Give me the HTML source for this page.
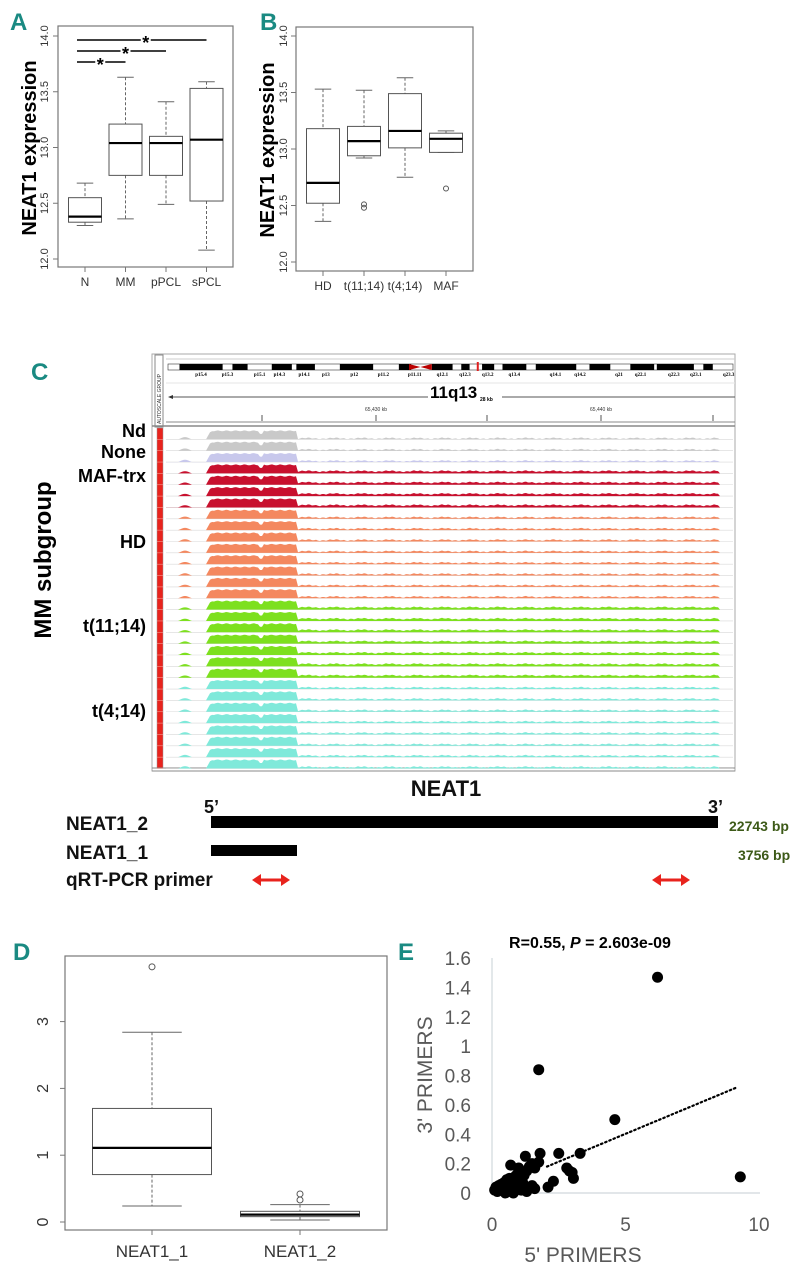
<!DOCTYPE html>
<html><head><meta charset="utf-8"><style>
html,body{margin:0;padding:0;background:#fff;}
svg{display:block;}
.lbl{font-family:"Liberation Sans Narrow","Liberation Sans",sans-serif;font-weight:bold;fill:#1a8a82;font-size:24px;}
.tk{font-family:"Liberation Sans Narrow","Liberation Sans",sans-serif;fill:#333;}
.bold{font-family:"Liberation Sans",sans-serif;font-weight:bold;fill:#000;}
.nar{font-family:"Liberation Sans Narrow","Liberation Sans",sans-serif;font-weight:bold;fill:#111;}
.eg{font-family:"Liberation Sans",sans-serif;fill:#595959;}
</style></head><body>
<svg id="fig" width="807" height="1280" viewBox="0 0 807 1280" xmlns="http://www.w3.org/2000/svg">
<rect width="807" height="1280" fill="#fff"/>
<text class="lbl" x="10" y="30">A</text>
<text class="lbl" x="260" y="30">B</text>
<text class="lbl" x="31" y="380">C</text>
<text class="lbl" x="13" y="960">D</text>
<text class="lbl" x="398" y="960">E</text>
<g id="pa"></g>
<g id="pb"></g>
<g id="pc"></g>
<g id="pd"></g>
<g id="pe"></g>
</svg>
<script>
// Panel A data
const aCats=["N","MM","pPCL","sPCL"];
const aLo=[12.30,12.36,12.49,12.08];
const aQ1=[12.33,12.75,12.75,12.52];
const aMed=[12.38,13.04,13.04,13.07];
const aQ3=[12.55,13.21,13.10,13.53];
const aHi=[12.68,13.63,13.41,13.59];
const aOut=[[],[],[],[]];
const aTicks=[12.0,12.5,13.0,13.5,14.0];
// Panel B data
const bCats=["HD","t(11;14)","t(4;14)","MAF"];
const bLo=[12.36,12.92,12.75,12.97];
const bQ1=[12.52,12.94,13.01,12.97];
const bMed=[12.70,13.07,13.16,13.09];
const bQ3=[13.18,13.20,13.49,13.14];
const bHi=[13.53,13.52,13.63,13.16];
const bOut=[[],[12.48,12.51],[],[12.65]];
// Panel D data
const dCats=["NEAT1_1","NEAT1_2"];
const dLo=[0.24,0.03];
const dQ1=[0.71,0.08];
const dMed=[1.11,0.11];
const dQ3=[1.70,0.16];
const dHi=[2.84,0.26];
const dOut=[[3.82],[0.33,0.42]];
const dTicks=[0,1,2,3];
// Panel E data
const eX=[0.1,0.2,0.3,0.25,0.4,0.5,0.6,0.7,0.8,0.9,1.0,0.45,0.55,0.65,0.75,0.85,0.95,1.05,1.1,1.2,1.3,1.15,1.4,1.5,0.7,1.25,1.8,1.75,1.6,1.0,0.35,0.15,1.6,1.3,2.1,2.3,2.5,3.3,2.8,3.0,3.05,2.9,1.5,0.8,0.5,1.1,6.2,1.75,4.6,9.3];
const eY=[0.02,0.01,0.03,0.05,0.02,0.04,0.03,0.05,0.02,0.06,0.04,0.07,0.09,0.10,0.08,0.11,0.13,0.10,0.14,0.12,0.15,0.07,0.18,0.20,0.19,0.25,0.27,0.21,0.17,0.17,0.06,0.04,0.03,0.01,0.04,0.08,0.27,0.27,0.17,0.14,0.10,0.15,0.05,0.00,0.00,0.02,1.47,0.84,0.50,0.11];
const eTrendX=[2.06,9.18];
const eTrendY=[0.18,0.72];
const eYTicks=["0","0.2","0.4","0.6","0.8","1","1.2","1.4","1.6"];
const eXTicks=["0","5","10"];
// Panel C data
const trackColors=["#c9c9c9","#c9c9c9","#c8c8ec","#c8102e","#c8102e","#c8102e","#c8102e","#f4885f","#f4885f","#f4885f","#f4885f","#f4885f","#f4885f","#f4885f","#f4885f","#7de01e","#7de01e","#7de01e","#7de01e","#7de01e","#7de01e","#7de01e","#7fe9da","#7fe9da","#7fe9da","#7fe9da","#7fe9da","#7fe9da","#7fe9da","#7fe9da"];
const groupLabels=["Nd","None","MAF-trx","HD","t(11;14)","t(4;14)"];
const groupLabelY=[437,458,482,548,632,717];
const bandStart=[78,218,322,387,502,658,745,823,878,932,1020,1162,1270,1340,1463];
const bandEnd=[192,258,375,436,590,690,800,845,910,995,1127,1217,1333,1438,1488];
const bandNames=["p15.4","p15.3","p15.1","p14.3","p14.1","p13","p12","p11.2","p11.11","q12.1","q12.3","q13.2","q13.4","q14.1","q14.2","q21","q22.1","q22.3","q23.1","q23.3"];
const bandNamePos=[135,205,290,342,408,465,540,617,700,773,833,893,963,1072,1137,1240,1297,1385,1443,1530];

const NS="http://www.w3.org/2000/svg";
function mk(parent,tag,attrs,name,txt){const e=document.createElementNS(NS,tag);for(const k in attrs)e.setAttribute(k,attrs[k]);


if(txt!==undefined)e.textContent=txt;parent.appendChild(e);return e;}

function boxplot(g,o){
  const y=v=>o.y0-(v-o.v0)*o.ppu;
  const x=i=>o.x0+i*o.dx;
  mk(g,'rect',{x:o.fx0,y:o.fy0,width:o.fx1-o.fx0,height:o.fy1-o.fy0,fill:'none',stroke:'#777','stroke-width':1.2},'plot-frame');
  o.ticks.forEach(t=>{const yy=y(t);
    mk(g,'line',{x1:o.fx0-5,x2:o.fx0,y1:yy,y2:yy,stroke:'#777'},'y-tick');
    mk(g,'text',{x:o.tlx,y:yy,transform:`rotate(-90 ${o.tlx} ${yy})`,'text-anchor':'middle',class:'tk','font-size':o.tfs},'y-tick-label',o.fmt(t));});
  o.cats.forEach((c,i)=>{const cx=x(i),hw=o.bw/2;
    mk(g,'line',{x1:cx,x2:cx,y1:o.fy1,y2:o.fy1+5,stroke:'#777'},'x-tick');
    mk(g,'text',{x:cx,y:o.cly,'text-anchor':'middle',class:'tk','font-size':o.cfs},'x-tick-label',c);
    mk(g,'line',{x1:cx,x2:cx,y1:y(o.hi[i]),y2:y(o.q3[i]),stroke:'#666','stroke-dasharray':'3,2'},'whisker-upper');
    mk(g,'line',{x1:cx,x2:cx,y1:y(o.q1[i]),y2:y(o.lo[i]),stroke:'#666','stroke-dasharray':'3,2'},'whisker-lower');
    mk(g,'line',{x1:cx-hw/2,x2:cx+hw/2,y1:y(o.hi[i]),y2:y(o.hi[i]),stroke:'#666'},'whisker-cap-upper');
    mk(g,'line',{x1:cx-hw/2,x2:cx+hw/2,y1:y(o.lo[i]),y2:y(o.lo[i]),stroke:'#666'},'whisker-cap-lower');
    mk(g,'rect',{x:cx-hw,y:y(o.q3[i]),width:o.bw,height:y(o.q1[i])-y(o.q3[i]),fill:'#fff',stroke:'#555'},'box-'+c);
    mk(g,'line',{x1:cx-hw,x2:cx+hw,y1:y(o.med[i]),y2:y(o.med[i]),stroke:'#000','stroke-width':2.2},'median-'+c);
    o.out[i].forEach(v=>mk(g,'circle',{cx:cx,cy:y(v),r:o.or,fill:'none',stroke:'#555'},'outlier'));
  });
  return {x,y};
}
const fmt1=t=>t.toFixed(1);
// Panel A
const ga=document.getElementById('pa');
const A=boxplot(ga,{cats:aCats,lo:aLo,q1:aQ1,med:aMed,q3:aQ3,hi:aHi,out:aOut,ticks:aTicks,fmt:fmt1,
 v0:12,y0:259,ppu:111.5,x0:85,dx:40.5,bw:33,fx0:58,fx1:233,fy0:26,fy1:267,tlx:48,tfs:11,cly:286,cfs:12,or:2.5});
mk(ga,'text',{x:36,y:148,transform:'rotate(-90 36 148)','text-anchor':'middle',class:'bold','font-size':20},'y-axis-title','NEAT1 expression');
[[3,40],[2,51],[1,62]].forEach(([j,yy])=>{const x1=77,x2=A.x(j);const mid=(A.x(0)+A.x(j))/2+ (j===1?-5:0);
  mk(ga,'line',{x1:x1,x2:x2,y1:yy,y2:yy,stroke:'#000','stroke-width':1.6},'significance-bar');
  mk(ga,'rect',{x:mid-5,y:yy-4,width:10,height:8,fill:'#fff'},'sig-gap');
  mk(ga,'text',{x:mid,y:yy+9,'text-anchor':'middle',class:'bold','font-size':18},'significance-star','*');});
// Panel B
const gb=document.getElementById('pb');
boxplot(gb,{cats:bCats,lo:bLo,q1:bQ1,med:bMed,q3:bQ3,hi:bHi,out:bOut,ticks:aTicks,fmt:fmt1,
 v0:12,y0:262,ppu:113,x0:323,dx:41,bw:33,fx0:296,fx1:473,fy0:27,fy1:271,tlx:287,tfs:11,cly:290,cfs:12,or:2.5});
mk(gb,'text',{x:274,y:150,transform:'rotate(-90 274 150)','text-anchor':'middle',class:'bold','font-size':20},'y-axis-title','NEAT1 expression');
// Panel D
const gd=document.getElementById('pd');
boxplot(gd,{cats:dCats,lo:dLo,q1:dQ1,med:dMed,q3:dQ3,hi:dHi,out:dOut,ticks:dTicks,fmt:t=>String(t),
 v0:0,y0:1222,ppu:66.8,x0:152,dx:148,bw:119,fx0:65,fx1:387,fy0:956,fy1:1230,tlx:48,tfs:16,cly:1257,cfs:17,or:3});
// Panel E
const ge=document.getElementById('pe');
const ex=v=>492+v*26.7, ey=v=>1193-v*146.8;
mk(ge,'line',{x1:492,x2:492,y1:958,y2:1193,stroke:'#d0d8dc','stroke-width':1.2},'y-axis-line');
mk(ge,'line',{x1:492,x2:760,y1:1193,y2:1193,stroke:'#d0d8dc','stroke-width':1.2},'x-axis-line');
eYTicks.forEach((t,i)=>mk(ge,'text',{x:471,y:ey(parseFloat(t))+7,'text-anchor':'end',class:'eg','font-size':19},'y-tick-label',t));
eXTicks.forEach(t=>mk(ge,'text',{x:ex(parseFloat(t)),y:1231,'text-anchor':'middle',class:'eg','font-size':19},'x-tick-label',t));
mk(ge,'text',{x:583,y:1262,'text-anchor':'middle',class:'eg','font-size':21},'x-axis-title',"5' PRIMERS");
mk(ge,'text',{x:432,y:1075,transform:'rotate(-90 432 1075)','text-anchor':'middle',class:'eg','font-size':21},'y-axis-title',"3' PRIMERS");
const tt=mk(ge,'text',{x:590,y:948,'text-anchor':'middle',class:'bold','font-size':16},'chart-title');
tt.innerHTML='R=0.55, <tspan font-style="italic">P</tspan> = 2.603e-09';
eX.forEach((v,i)=>mk(ge,'circle',{cx:ex(v),cy:ey(eY[i]),r:5.5,fill:'#000'},'data-point'));
mk(ge,'line',{x1:ex(eTrendX[0]),y1:ey(eTrendY[0]),x2:ex(eTrendX[1]),y2:ey(eTrendY[1]),stroke:'#000','stroke-width':2.2,'stroke-dasharray':'1.5,3','stroke-linecap':'round'},'trend-line');
// Panel C
const gc=document.getElementById('pc');
const zx=z=>150+z/2.644;
mk(gc,'rect',{x:152,y:354,width:583,height:417,fill:'#fff',stroke:'#aaa'},'igv-frame');
mk(gc,'rect',{x:155,y:355,width:8,height:72,fill:'#fff',stroke:'#888'},'autoscale-group-box');
mk(gc,'text',{x:161,y:424,transform:'rotate(-90 161 424)',class:'tk','font-size':5},'autoscale-label','AUTOSCALE GROUP');
mk(gc,'line',{x1:166,x2:735,y1:359,y2:359,stroke:'#ccc'},'header-line');
mk(gc,'rect',{x:168,y:364,width:565,height:6,fill:'#fff',stroke:'#333','stroke-width':0.6},'ideogram');
bandStart.forEach((s,i)=>mk(gc,'rect',{x:zx(s),y:364,width:zx(bandEnd[i])-zx(s),height:6,fill:'#000'},'ideogram-band'));
mk(gc,'polygon',{points:`${zx(685)},364 ${zx(715)},367 ${zx(685)},370`,fill:'#b00'},'centromere');
mk(gc,'polygon',{points:`${zx(745)},364 ${zx(715)},367 ${zx(745)},370`,fill:'#b00'},'centromere');
mk(gc,'rect',{x:zx(864),y:362,width:2,height:9,fill:'#e02020'},'region-marker');
bandNames.forEach((n,i)=>mk(gc,'text',{x:zx(bandNamePos[i]),y:376,'text-anchor':'middle','font-family':'Liberation Serif,serif','font-size':5,'font-weight':'bold'},'band-label',n));
mk(gc,'line',{x1:166,x2:735,y1:383,y2:383,stroke:'#e6e6e6'},'header-line');
mk(gc,'line',{x1:170,x2:428,y1:397,y2:397,stroke:'#555'},'scale-line');
mk(gc,'line',{x1:502,x2:735,y1:397,y2:397,stroke:'#555'},'scale-line');
mk(gc,'polygon',{points:'168,397 173,395 173,399',fill:'#333'},'scale-arrow');
mk(gc,'text',{x:430,y:398,class:'bold','font-size':17},'locus-label','11q13');
mk(gc,'text',{x:480,y:401,class:'bold','font-size':5},'scale-label','28 kb');
[262,376,487,601,713].forEach(t=>mk(gc,'line',{x1:t,x2:t,y1:415,y2:421,stroke:'#555'},'ruler-tick'));
mk(gc,'text',{x:376,y:411,'text-anchor':'middle','font-size':5,fill:'#333','font-family':'Liberation Sans,sans-serif'},'ruler-label','65,430 kb');
mk(gc,'text',{x:601,y:411,'text-anchor':'middle','font-size':5,fill:'#333','font-family':'Liberation Sans,sans-serif'},'ruler-label','65,440 kb');
mk(gc,'line',{x1:166,x2:735,y1:422,y2:422,stroke:'#888'},'ruler-line');
mk(gc,'line',{x1:152,x2:735,y1:426,y2:426,stroke:'#888','stroke-width':1.5},'ruler-line');
mk(gc,'rect',{x:157,y:428,width:6,height:340,fill:'#e8231d',stroke:'#999','stroke-width':0.5},'autoscale-bar');
mk(gc,'line',{x1:152,x2:735,y1:768,y2:768,stroke:'#888'},'bottom-line');
mk(gc,'line',{x1:152,x2:735,y1:771,y2:771,stroke:'#888'},'bottom-line');
const th=11.35;
trackColors.forEach((c,i)=>{
  const b=428+th*(i+1);
  const strong=(i>=3&&i<=6)||(i>=15&&i<=21);
  const tail=strong?2.2:(i<3?1.0:1.4);
  let d=`M166,${b}`;
  for(let x=166;x<=720;x+=2){
    let h=0;
    if(x>=180&&x<=190)h=0.8+Math.sin((x-180)/10*Math.PI)*1.5;
    else if(x>=206&&x<211)h=(x-206)/5*9;
    else if(x>=211&&x<=296){h=8.5+Math.sin(x*0.7)*0.5; if(Math.abs(x-261)<3)h=5.5;}
    else if(x>296&&x<=718)h=tail+Math.sin(x*0.9)*0.5+Math.sin(x*0.23)*0.5;
    d+=` L${x},${(b-Math.max(0,h)).toFixed(1)}`;
  }
  d+=` L720,${b} Z`;
  mk(gc,'line',{x1:166,x2:733,y1:b,y2:b,stroke:'#d8d8d8','stroke-width':0.6},'track-baseline');
  mk(gc,'path',{d:d,fill:c},'coverage-track');
  mk(gc,'line',{x1:157,x2:163,y1:b,y2:b,stroke:'#f59a90','stroke-width':0.6},'autoscale-tick');
});
groupLabels.forEach((l,i)=>mk(gc,'text',{x:146,y:groupLabelY[i],'text-anchor':'end',class:'bold','font-size':18},'group-label',l));
mk(gc,'text',{x:51,y:560,transform:'rotate(-90 51 560)','text-anchor':'middle',class:'bold','font-size':24},'y-axis-title','MM subgroup');
// gene diagram
mk(gc,'text',{x:446,y:796,'text-anchor':'middle',class:'nar','font-size':22},'gene-title','NEAT1');
mk(gc,'text',{x:204,y:813,class:'nar','font-size':18},'five-prime-label','5’');
mk(gc,'text',{x:708,y:813,class:'nar','font-size':18},'three-prime-label','3’');
mk(gc,'text',{x:66,y:830,class:'nar','font-size':19},'neat1-2-label','NEAT1_2');
mk(gc,'rect',{x:211,y:816,width:507,height:12,fill:'#000'},'neat1-2-bar');
mk(gc,'text',{x:729,y:831,class:'nar','font-size':14,style:'fill:#3d5a18'},'neat1-2-length','22743 bp');
mk(gc,'text',{x:66,y:859,class:'nar','font-size':19},'neat1-1-label','NEAT1_1');
mk(gc,'rect',{x:211,y:845,width:86,height:11,fill:'#000'},'neat1-1-bar');
mk(gc,'text',{x:738,y:860,class:'nar','font-size':14,style:'fill:#3d5a18'},'neat1-1-length','3756 bp');
mk(gc,'text',{x:66,y:886,class:'nar','font-size':19},'primer-label','qRT-PCR primer');
[[252,290],[652,690]].forEach(([a,b2])=>{
  mk(gc,'line',{x1:a+6,x2:b2-6,y1:880,y2:880,stroke:'#e8231d','stroke-width':3},'primer-arrow');
  mk(gc,'polygon',{points:`${a},880 ${a+9},874 ${a+9},886`,fill:'#e8231d'},'primer-arrowhead');
  mk(gc,'polygon',{points:`${b2},880 ${b2-9},874 ${b2-9},886`,fill:'#e8231d'},'primer-arrowhead');
});
</script>
</body></html>
